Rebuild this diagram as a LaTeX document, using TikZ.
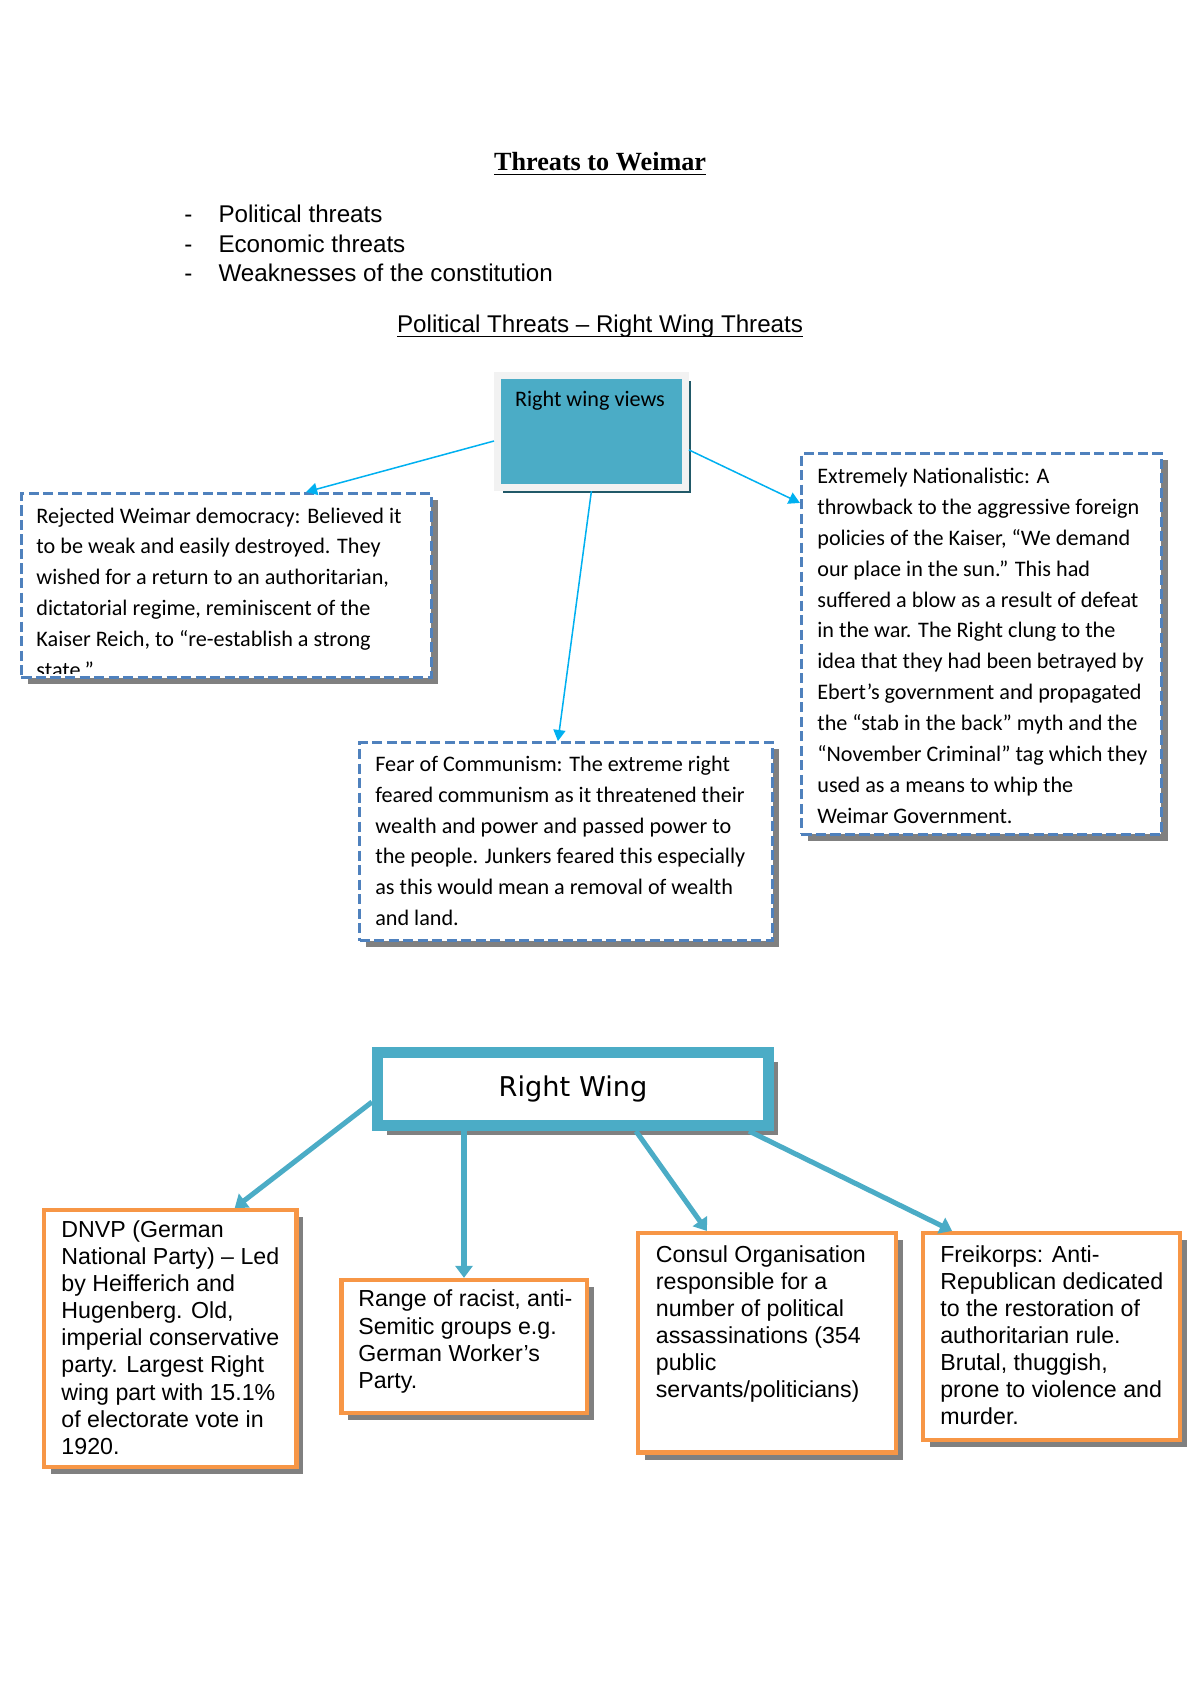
\documentclass[tikz,border=0pt]{standalone}
\usepackage{fontspec}
\usetikzlibrary{arrows.meta,shadows}
\setmainfont{Liberation Sans}
\newfontfamily\calibri{Carlito}
\newfontfamily\timesf{Liberation Serif}
\newfontfamily\verdana{DejaVu Sans}
\definecolor{dashblue}{HTML}{4F81BD}
\definecolor{lineblue}{HTML}{00B0F0}
\definecolor{wingteal}{HTML}{4BACC6}
\definecolor{darkteal}{HTML}{215968}
\definecolor{paleframe}{HTML}{F2F2F2}
\definecolor{boxorange}{HTML}{F79646}
\definecolor{shadowgray}{HTML}{808080}
\newsavebox\linebox
\newcommand\wordline[1]{\sbox\linebox{#1}\rlap{\rule[-1.8pt]{\wd\linebox}{0.5pt}}\usebox\linebox}
\begin{document}
\begin{tikzpicture}[x=1pt,y=-1pt,
  dashbox/.style={draw=dashblue, line width=1.5pt, dash pattern=on 5pt off 2.2pt, fill=white,
    drop shadow={shadow xshift=3.2pt, shadow yshift=-3.2pt, fill=shadowgray, opacity=1}},
  orangebox/.style={draw=boxorange, line width=2.25pt, fill=white,
    drop shadow={shadow xshift=3.4pt, shadow yshift=-3.4pt, fill=shadowgray, opacity=1}},
  boxtext/.style={anchor=base west, inner sep=0pt, align=left, font=\calibri\fontsize{11}{15.3}\selectfont},
  wingtext/.style={anchor=base west, inner sep=0pt, align=left, font=\fontsize{11.5}{13.45}\selectfont},
  thinarrow/.style={draw=lineblue, line width=0.75pt, -{Triangle[width=6pt,length=5.5pt]}},
  thickarrow/.style={draw=wingteal, line width=2.5pt, -{Triangle[width=8.5pt,length=6pt]}}]
\useasboundingbox (0,0) rectangle (595.3,842.4);
\node[anchor=base, inner sep=0pt, font=\timesf\bfseries\fontsize{13}{16}\selectfont] (title) at (297.7,84.8) {\underline{Threats to Weimar}};
\node[anchor=base west, inner sep=0pt, font=\fontsize{12}{14}\selectfont] (dash0) at (91.3,110.5) {-};
\node[anchor=base west, inner sep=0pt, font=\fontsize{12}{14}\selectfont] (threat0) at (108.2,110.5) {Political threats};
\node[anchor=base west, inner sep=0pt, font=\fontsize{12}{14}\selectfont] (dash1) at (91.3,125.4) {-};
\node[anchor=base west, inner sep=0pt, font=\fontsize{12}{14}\selectfont] (threat1) at (108.2,125.4) {Economic threats};
\node[anchor=base west, inner sep=0pt, font=\fontsize{12}{14}\selectfont] (dash2) at (91.3,139.9) {-};
\node[anchor=base west, inner sep=0pt, font=\fontsize{12}{14}\selectfont] (threat2) at (108.2,139.9) {Weaknesses of the constitution};
\node[anchor=base, inner sep=0pt, font=\fontsize{12}{14}\selectfont] (subtitle) at (297.7,165.2) {\wordline{Political Threats – Right Wing Threats}};
\node[fill=wingteal, draw=paleframe, line width=3.5pt, minimum width=93.2pt, minimum height=55.6pt,
  drop shadow={shadow xshift=2.8pt, shadow yshift=-2.8pt, fill=darkteal, opacity=1}] (views) at (293.4,214.1) {};
\node[anchor=base, inner sep=0pt, font=\calibri\fontsize{11}{13}\selectfont] (viewstext) at (292.7,201.9) {Right wing views};
\node[dashbox, minimum width=203.4pt, minimum height=91.3pt] (rejected) at (112.35,290.5) {};
\begin{scope}
\clip (rejected.north west) rectangle ([yshift=3pt]rejected.south east);
\node[boxtext] (rejectedtext) at (17.9,336.0) {Rejected Weimar democracy: Believed it\\to be weak and easily destroyed. They\\wished for a return to an authoritarian,\\dictatorial regime, reminiscent of the\\Kaiser Reich, to “re-establish a strong\\state.”};
\end{scope}
\node[dashbox, minimum width=178.6pt, minimum height=189pt] (nationalistic) at (486.9,319.5) {};
\node[boxtext] (nationalistictext) at (405.3,408.3) {Extremely Nationalistic: A\\throwback to the aggressive foreign\\policies of the Kaiser, “We demand\\our place in the sun.” This had\\suffered a blow as a result of defeat\\in the war. The Right clung to the\\idea that they had been betrayed by\\Ebert’s government and propagated\\the “stab in the back” myth and the\\“November Criminal” tag which they\\used as a means to whip the\\Weimar Government.};
\node[dashbox, minimum width=204.9pt, minimum height=98.2pt] (communism) at (280.8,417.5) {};
\node[boxtext] (communismtext) at (186.0,459.2) {Fear of Communism: The extreme right\\feared communism as it threatened their\\wealth and power and passed power to\\the people. Junkers feared this especially\\as this would mean a removal of wealth\\and land.};
\draw[thinarrow] ([yshift=-4.7pt]views.west) -- ([xshift=39.5pt]rejected.north);
\draw[thinarrow] ([yshift=-9.1pt]views.east) -- ([yshift=70pt]nationalistic.west);
\draw[thinarrow] (views.south) -- ([xshift=-4pt]communism.north);
\node[draw=wingteal, line width=5.5pt, fill=white, minimum width=194pt, minimum height=36.2pt,
  font=\verdana\fontsize{13.5}{16}\selectfont,
  drop shadow={shadow xshift=4.5pt, shadow yshift=-4.5pt, fill=shadowgray, opacity=1}] (wing) at (284.3,540.3) {Right Wing};
\node[orangebox, minimum width=125.1pt, minimum height=127.3pt] (dnvp) at (84.45,664.05) {};
\node[wingtext] (dnvptext) at (30.3,721.5) {DNVP (German\\National Party) – Led\\by Heifferich and\\Hugenberg. Old,\\imperial conservative\\party. Largest Right\\wing part with 15.1\%\\of electorate vote in\\1920.};
\node[orangebox, minimum width=121.8pt, minimum height=65.8pt] (racist) at (230.2,668.0) {};
\node[wingtext] (racisttext) at (177.6,688.75) {Range of racist, anti-\\Semitic groups e.g.\\German Worker’s\\Party.};
\node[orangebox, minimum width=127.8pt, minimum height=108.9pt] (consul) at (380.5,666.25) {};
\node[wingtext] (consultext) at (325.2,693.35) {Consul Organisation\\responsible for a\\number of political\\assassinations (354\\public\\servants/politicians)};
\node[orangebox, minimum width=127.3pt, minimum height=102.5pt] (freikorps) at (521.65,663.05) {};
\node[wingtext] (freikorpstext) at (466.3,706.8) {Freikorps: Anti-\\Republican dedicated\\to the restoration of\\authoritarian rule.\\Brutal, thuggish,\\prone to violence and\\murder.};
\draw[thickarrow] ([yshift=-6.4pt]wing.west) -- ([xshift=32pt]dnvp.north);
\draw[thickarrow] (wing.south -| racist.north) -- (racist.north);
\draw[thickarrow] ([xshift=31.2pt]wing.south) -- ([xshift=-29.8pt]consul.north);
\draw[thickarrow] ([xshift=87.3pt]wing.south) -- ([xshift=-49.3pt]freikorps.north);
\end{tikzpicture}
\end{document}
